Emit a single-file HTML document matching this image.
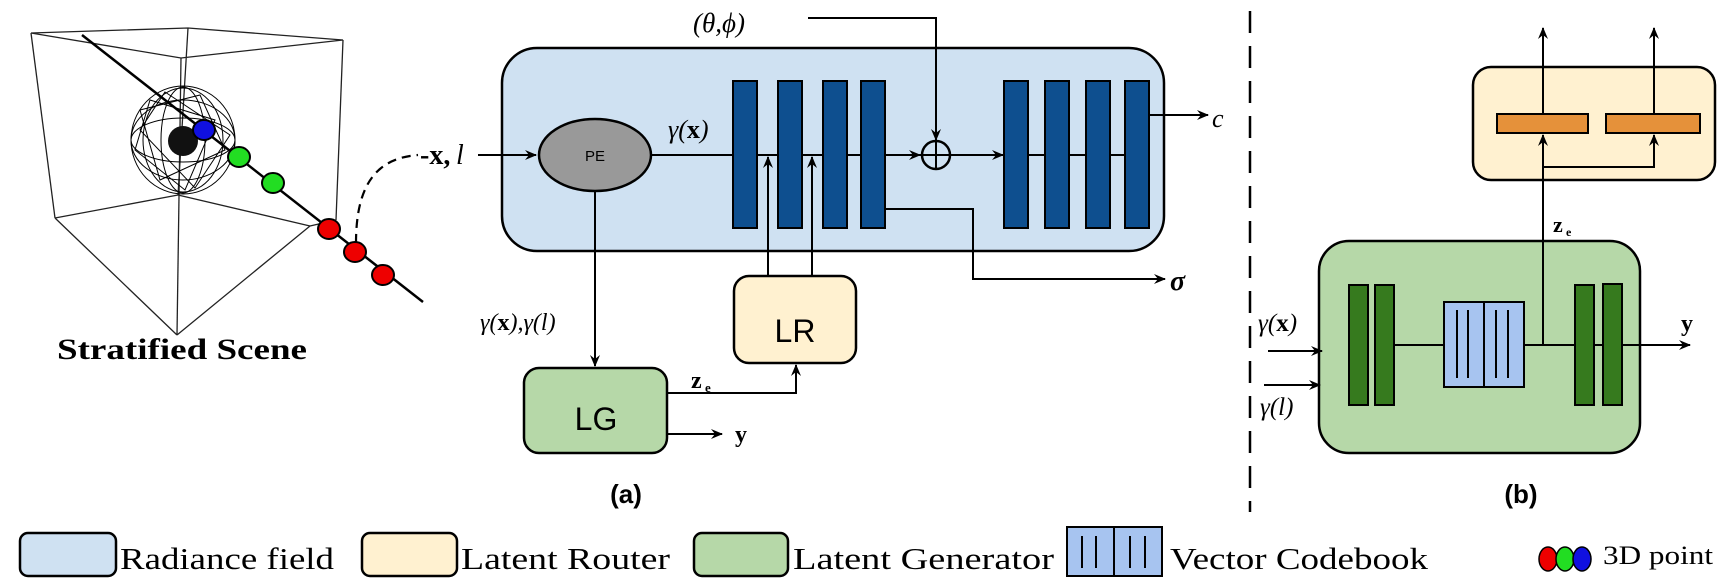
<!DOCTYPE html>
<html><head><meta charset="utf-8"><style>
html,body{margin:0;padding:0;background:#fff;}
svg{display:block;}
.s{font-family:"Liberation Serif",serif;}
.a{font-family:"Liberation Sans",sans-serif;}
</style></head><body>
<svg width="1724" height="581" viewBox="0 0 1724 581" xmlns="http://www.w3.org/2000/svg">
<defs>
<marker id="ar" viewBox="0 0 12 10" refX="11" refY="5" markerWidth="12" markerHeight="10" markerUnits="userSpaceOnUse" orient="auto">
<path d="M0,0 L12,5 L0,10 L4,5 z" fill="#000"/></marker>
</defs>
<!-- Scene -->
<g stroke="#222" stroke-width="1.3" fill="none">
<polygon points="31,33 188,28 343,40 181,58"/>
<line x1="31" y1="33" x2="55" y2="218"/>
<line x1="181" y1="58" x2="177" y2="335"/>
<line x1="343" y1="40" x2="336" y2="220"/>
<line x1="55" y1="218" x2="177" y2="335"/>
<line x1="177" y1="335" x2="310" y2="226"/>
<line x1="188" y1="28" x2="178" y2="195"/>
<line x1="178" y1="195" x2="55" y2="218"/>
<line x1="178" y1="195" x2="310" y2="226"/>
<line x1="310" y1="226" x2="336" y2="220"/>
</g>
<g stroke="#000" stroke-width="1" fill="none">
<ellipse cx="183" cy="140" rx="52" ry="54"/>
<ellipse cx="183" cy="140" rx="40" ry="52"/>
<ellipse cx="183" cy="140" rx="22" ry="53"/>
<ellipse cx="183" cy="140" rx="52" ry="40"/>
<ellipse cx="183" cy="140" rx="52" ry="22"/>
<path d="M140,110 L200,95 L225,150 L160,180 Z M150,100 L215,120 L185,190 L135,150 Z M165,92 L230,135 L195,188 L140,130Z"/>
</g>
<circle cx="183" cy="141" r="15" fill="#111"/>
<line x1="82" y1="35" x2="423" y2="302" stroke="#000" stroke-width="2.5"/>
<g stroke="#000" stroke-width="2">
<ellipse cx="204" cy="130" rx="11" ry="10" fill="#1010e0"/>
<ellipse cx="239" cy="157" rx="11" ry="10" fill="#22dd22"/>
<ellipse cx="273" cy="183" rx="11" ry="10" fill="#22dd22"/>
<ellipse cx="329" cy="229" rx="11" ry="10" fill="#ee0000"/>
<ellipse cx="355" cy="252" rx="11" ry="10" fill="#ee0000"/>
<ellipse cx="383" cy="275" rx="11" ry="10" fill="#ee0000"/>
</g>
<path d="M356,243 C356,180 380,158 418,155" stroke="#000" stroke-width="2.2" fill="none" stroke-dasharray="9,6"/>
<text x="182" y="359" class="s" font-size="30" font-weight="bold" text-anchor="middle" textLength="250" lengthAdjust="spacingAndGlyphs">Stratified Scene</text>

<!-- Radiance field -->
<rect x="502" y="48" width="662" height="203" rx="35" fill="#cfe1f2" stroke="#000" stroke-width="2.5"/>
<text x="420" y="164" class="s" font-size="28" font-weight="bold">-x,</text><text x="456" y="164" class="s" font-size="28" font-style="italic">l</text>
<line x1="478" y1="155" x2="536" y2="155" stroke="#000" stroke-width="2" marker-end="url(#ar)"/>
<ellipse cx="595" cy="155" rx="56" ry="36" fill="#999" stroke="#000" stroke-width="2.5"/>
<text x="595" y="161" class="a" font-size="15" text-anchor="middle">PE</text>
<text x="668" y="138" class="s" font-size="26" font-style="italic">γ(<tspan font-weight="bold" font-style="normal">x</tspan>)</text>
<line x1="651" y1="155" x2="1149" y2="155" stroke="#000" stroke-width="2"/>
<line x1="885" y1="155" x2="920" y2="155" stroke="#000" stroke-width="2" marker-end="url(#ar)"/>
<line x1="950" y1="155" x2="1003" y2="155" stroke="#000" stroke-width="2" marker-end="url(#ar)"/>
<g fill="#0e4f8f" stroke="#000" stroke-width="2">
<rect x="733" y="81" width="24" height="147"/><rect x="778" y="81" width="24" height="147"/>
<rect x="823" y="81" width="24" height="147"/><rect x="861" y="81" width="24" height="147"/>
<rect x="1004" y="81" width="24" height="147"/><rect x="1045" y="81" width="24" height="147"/>
<rect x="1086" y="81" width="24" height="147"/><rect x="1125" y="81" width="24" height="147"/>
</g>
<circle cx="936" cy="155" r="14" fill="none" stroke="#000" stroke-width="2.5"/>
<line x1="922" y1="155" x2="950" y2="155" stroke="#000" stroke-width="2"/>
<line x1="936" y1="141" x2="936" y2="169" stroke="#000" stroke-width="2"/>
<polyline points="808,18 936,18 936,140" fill="none" stroke="#000" stroke-width="2" marker-end="url(#ar)"/>
<text x="693" y="32" class="s" font-size="27" font-style="italic">(θ,ϕ)</text>
<line x1="1149" y1="115" x2="1208" y2="115" stroke="#000" stroke-width="2" marker-end="url(#ar)"/>
<text x="1212" y="127" class="s" font-size="26" font-style="italic">c</text>
<polyline points="885,209 973,209 973,279 1165,279" fill="none" stroke="#000" stroke-width="2" marker-end="url(#ar)"/>
<text x="1170" y="290" class="s" font-size="28" font-style="italic" font-weight="bold">σ</text>
<!-- LR -->
<line x1="768" y1="277" x2="768" y2="157" stroke="#000" stroke-width="2" marker-end="url(#ar)"/>
<line x1="812" y1="277" x2="812" y2="157" stroke="#000" stroke-width="2" marker-end="url(#ar)"/>
<rect x="734" y="276" width="122" height="87" rx="15" fill="#fff1d0" stroke="#000" stroke-width="2.5"/>
<text x="795" y="342" class="a" font-size="32" text-anchor="middle">LR</text>
<!-- LG -->
<line x1="595" y1="191" x2="595" y2="366" stroke="#000" stroke-width="2" marker-end="url(#ar)"/>
<text x="480" y="330" class="s" font-size="24" font-style="italic">γ(<tspan font-weight="bold" font-style="normal">x</tspan>),γ(l)</text>
<rect x="524" y="368" width="143" height="85" rx="15" fill="#b6d8a8" stroke="#000" stroke-width="2.5"/>
<text x="596" y="430" class="a" font-size="32" text-anchor="middle">LG</text>
<polyline points="667,393 796,393 796,365" fill="none" stroke="#000" stroke-width="2" marker-end="url(#ar)"/>
<text x="691" y="388" class="s" font-size="24" font-weight="bold">z</text><text x="705" y="392" class="s" font-size="13" font-weight="bold">e</text>
<line x1="667" y1="434" x2="722" y2="434" stroke="#000" stroke-width="2" marker-end="url(#ar)"/>
<text x="735" y="442" class="s" font-size="24" font-weight="bold">y</text>
<text x="626" y="503" class="a" font-size="26" font-weight="bold" text-anchor="middle">(a)</text>
<!-- divider -->
<line x1="1250" y1="11" x2="1250" y2="512" stroke="#000" stroke-width="2.5" stroke-dasharray="22,13"/>
<!-- right panel -->
<rect x="1473" y="67" width="242" height="113" rx="18" fill="#fff1d0" stroke="#000" stroke-width="2.5"/>
<line x1="1543" y1="114" x2="1543" y2="28" stroke="#000" stroke-width="2" marker-end="url(#ar)"/>
<line x1="1654" y1="114" x2="1654" y2="28" stroke="#000" stroke-width="2" marker-end="url(#ar)"/>
<rect x="1497" y="114" width="91" height="19" fill="#e5913a" stroke="#000" stroke-width="2"/>
<rect x="1606" y="114" width="94" height="19" fill="#e5913a" stroke="#000" stroke-width="2"/>
<line x1="1543" y1="345" x2="1543" y2="135" stroke="#000" stroke-width="2" marker-end="url(#ar)"/>
<polyline points="1543,167 1654,167 1654,135" fill="none" stroke="#000" stroke-width="2" marker-end="url(#ar)"/>
<text x="1553" y="232" class="s" font-size="22" font-weight="bold">z</text><text x="1566" y="236" class="s" font-size="12" font-weight="bold">e</text>
<rect x="1319" y="241" width="321" height="212" rx="30" fill="#b6d8a8" stroke="#000" stroke-width="2.5"/>
<line x1="1543" y1="241" x2="1543" y2="345" stroke="#000" stroke-width="2"/>
<line x1="1394" y1="345" x2="1444" y2="345" stroke="#000" stroke-width="2"/>
<line x1="1524" y1="345" x2="1690" y2="345" stroke="#000" stroke-width="2" marker-end="url(#ar)"/>
<g fill="#367a1e" stroke="#000" stroke-width="2">
<rect x="1349" y="285" width="19" height="120"/><rect x="1375" y="285" width="19" height="120"/>
<rect x="1575" y="285" width="19" height="120"/><rect x="1603" y="284" width="19" height="121"/>
</g>
<rect x="1444" y="302" width="80" height="85" fill="#a7c4f0" stroke="#000" stroke-width="2"/>
<g stroke="#000" stroke-width="2">
<line x1="1484" y1="302" x2="1484" y2="387"/>
<line x1="1457" y1="310" x2="1457" y2="378"/><line x1="1468" y1="310" x2="1468" y2="378"/>
<line x1="1496" y1="310" x2="1496" y2="378"/><line x1="1508" y1="310" x2="1508" y2="378"/>
</g>
<text x="1681" y="331" class="s" font-size="24" font-weight="bold">y</text>
<text x="1258" y="331" class="s" font-size="25" font-style="italic">γ(<tspan font-weight="bold" font-style="normal">x</tspan>)</text>
<line x1="1268" y1="351" x2="1322" y2="351" stroke="#000" stroke-width="2" marker-end="url(#ar)"/>
<line x1="1264" y1="385" x2="1320" y2="385" stroke="#000" stroke-width="2" marker-end="url(#ar)"/>
<text x="1260" y="415" class="s" font-size="25" font-style="italic">γ(l)</text>
<text x="1521" y="503" class="a" font-size="26" font-weight="bold" text-anchor="middle">(b)</text>
<!-- legend -->
<rect x="20" y="533" width="96" height="43" rx="8" fill="#cfe1f2" stroke="#000" stroke-width="2.5"/>
<text x="120" y="569" class="s" font-size="31" textLength="214" lengthAdjust="spacingAndGlyphs">Radiance field</text>
<rect x="362" y="533" width="95" height="43" rx="8" fill="#fff1d0" stroke="#000" stroke-width="2.5"/>
<text x="461" y="569" class="s" font-size="31" textLength="209" lengthAdjust="spacingAndGlyphs">Latent Router</text>
<rect x="694" y="533" width="94" height="43" rx="8" fill="#b6d8a8" stroke="#000" stroke-width="2.5"/>
<text x="793" y="569" class="s" font-size="31" textLength="261" lengthAdjust="spacingAndGlyphs">Latent Generator</text>
<rect x="1067" y="527" width="95" height="49" fill="#a7c4f0" stroke="#000" stroke-width="2"/>
<g stroke="#000" stroke-width="2">
<line x1="1114" y1="527" x2="1114" y2="576"/>
<line x1="1082" y1="536" x2="1082" y2="568"/><line x1="1096" y1="536" x2="1096" y2="568"/>
<line x1="1130" y1="536" x2="1130" y2="568"/><line x1="1145" y1="536" x2="1145" y2="568"/>
</g>
<text x="1170" y="569" class="s" font-size="31" textLength="258" lengthAdjust="spacingAndGlyphs">Vector Codebook</text>
<g stroke="#000" stroke-width="1.5">
<ellipse cx="1548" cy="559" rx="9" ry="12" fill="#ee0000"/>
<ellipse cx="1565" cy="559" rx="9" ry="12" fill="#22dd22"/>
<ellipse cx="1582" cy="559" rx="9" ry="12" fill="#1010e0"/>
</g>
<text x="1603" y="564" class="s" font-size="26" textLength="110" lengthAdjust="spacingAndGlyphs">3D point</text>
</svg>
</body></html>
